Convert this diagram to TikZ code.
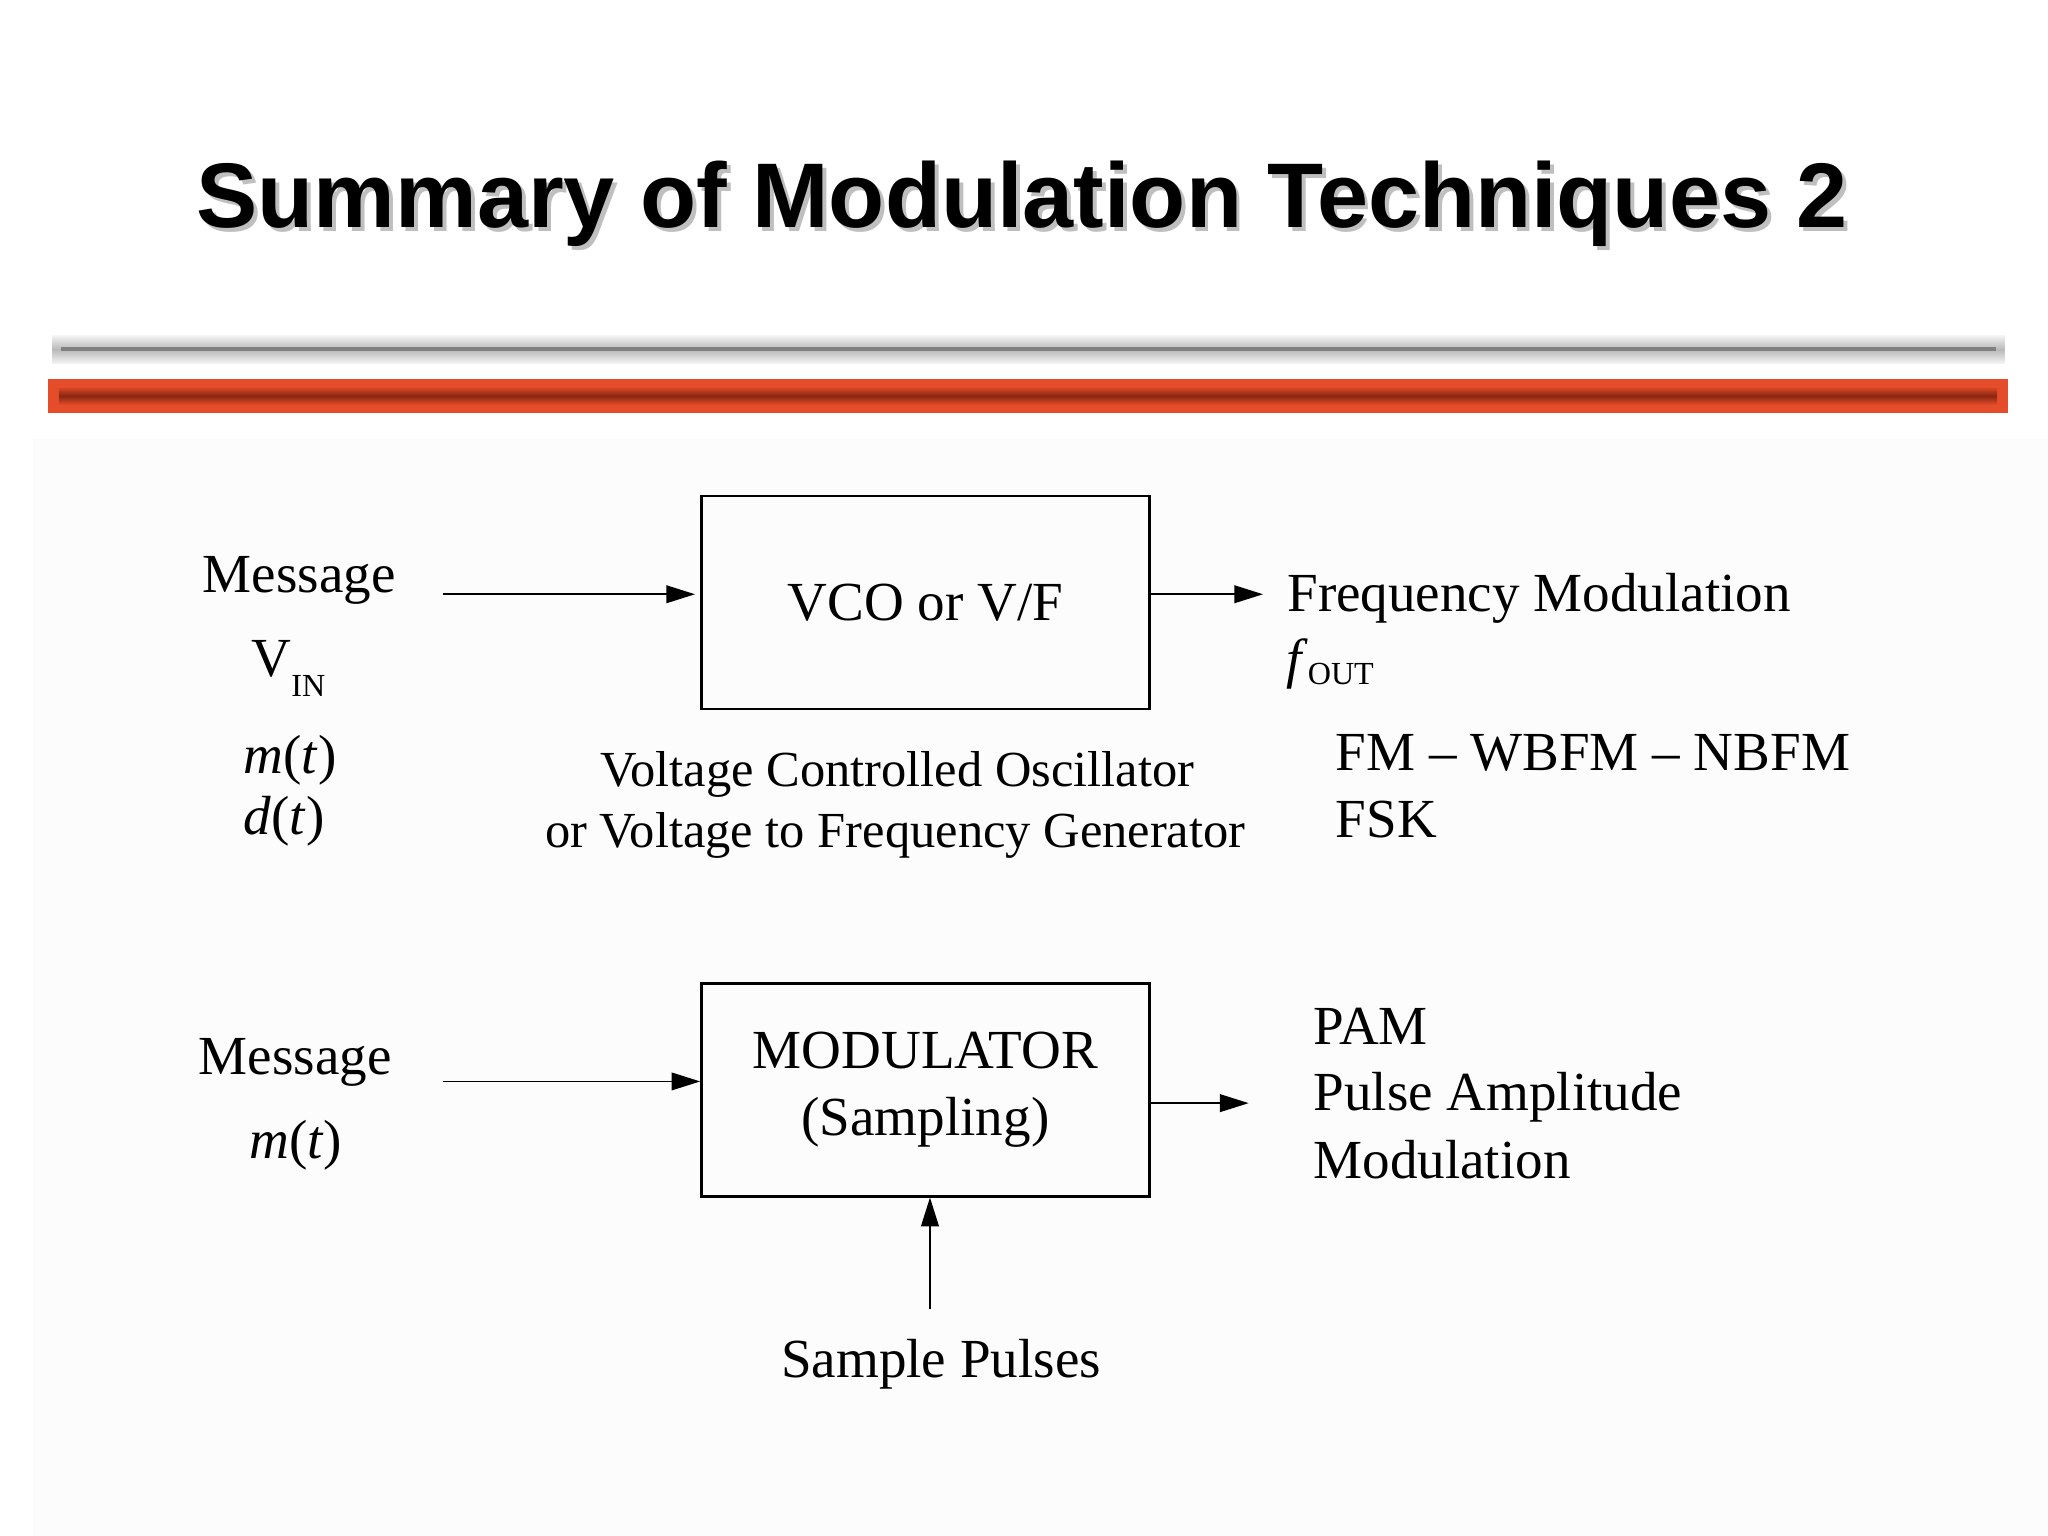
\documentclass[tikz,border=0pt]{standalone}
\usepackage{fontspec}
\setmainfont{Liberation Serif}
\newfontfamily\headfont{Liberation Sans}
\usepackage{xcolor}
\usepackage{tikz}
\usetikzlibrary{positioning,calc,arrows.meta}
\definecolor{barred}{RGB}{228,76,42}
\definecolor{bardark}{RGB}{135,38,16}

\begin{document}
\begin{tikzpicture}[
    blockbox/.style={draw, line width=0.5pt, minimum width=3.43cm, minimum height=1.63cm, inner sep=0pt, font=\fontsize{12}{14}\selectfont},
    sig/.style={line width=0.4pt, -{Triangle[length=2.2mm,width=1.35mm]}},
    lbl/.style={inner sep=0pt, font=\fontsize{12}{14}\selectfont},
    captext/.style={inner sep=0pt, font=\fontsize{11}{13}\selectfont}
  ]
    \useasboundingbox (0,0) rectangle (15.68,11.76);
    \fill[white] (0,0) rectangle (15.68,11.76);
    \fill[black!1] (0.25,0) rectangle (15.68,8.40);

    % Title with shadow
    \node[anchor=base, inner sep=0pt, text=gray!50, font=\headfont\bfseries\fontsize{20}{24}\selectfont] (titleshadow) at (7.855,9.99) {Summary of Modulation Techniques 2};
    \node[anchor=base, inner sep=0pt, font=\headfont\bfseries\fontsize{20}{24}\selectfont] (title) at (7.825,10.02) {Summary of Modulation Techniques 2};

    % Bars
    \shade[top color=gray!10, bottom color=gray!10, middle color=gray!55] (0.40,8.98) rectangle (15.35,9.19);
    \draw[black!50, line width=0.9pt] (0.47,9.085) -- (15.28,9.085);
    \fill[barred] (0.37,8.60) rectangle (15.37,8.86);
    \shade[top color=barred, bottom color=barred, middle color=bardark] (0.45,8.66) rectangle (15.29,8.80);

    % FM block
    \node[blockbox] (vco) at (7.085,7.145) {VCO or V/F};
    \node[lbl, anchor=base] (msgtop) at (2.29,7.22) {Message};
    \node[lbl, anchor=base west] (vin) at (1.92,6.58) {V\raisebox{-4.3pt}{\fontsize{7}{8}\selectfont IN}};
    \node[lbl, anchor=base] (mtop) at (2.22,5.84) {\textit{m}(\textit{t})};
    \node[lbl, anchor=base] (dtop) at (2.175,5.37) {\textit{d}(\textit{t})};
    \node[captext, anchor=base] (capa) at (6.87,5.74) {Voltage Controlled Oscillator};
    \node[captext, anchor=base] (capb) at (6.855,5.27) {or Voltage to Frequency Generator};
    \node[lbl, anchor=base west] (fmname) at (9.85,7.08) {Frequency Modulation};
    \node[lbl, anchor=base west] (fout) at (9.84,6.57) {\textit{f}\raisebox{-1.4pt}{\fontsize{7}{8}\selectfont OUT}};
    \node[lbl, anchor=base west] (fmkinds) at (10.22,5.86) {FM -- WBFM -- NBFM};
    \node[lbl, anchor=base west] (fsk) at (10.22,5.35) {FSK};

    \coordinate (vcoin) at (3.39,7.21);
    \coordinate (vcoout) at (9.67,7.21);
    \draw[sig, shorten >=0.4mm] (vcoin) -- (vcoin -| vco.west);
    \draw[sig] (vcoout -| vco.east) -- (vcoout);

    % PAM block
    \node[blockbox, align=center] (mod) at (7.085,3.415) {MODULATOR\\[0.6pt](Sampling)};
    \node[lbl, anchor=base] (msgbot) at (2.26,3.53) {Message};
    \node[lbl, anchor=base] (mbot) at (2.265,2.89) {\textit{m}(\textit{t})};
    \node[lbl, anchor=base west] (pam) at (10.05,3.76) {PAM};
    \node[lbl, anchor=base west] (pamname) at (10.05,3.26) {Pulse Amplitude};
    \node[lbl, anchor=base west] (pamname2) at (10.05,2.74) {Modulation};
    \node[lbl, anchor=base] (pulses) at (7.205,1.21) {Sample Pulses};

    \coordinate (modin) at (3.39,3.48);
    \coordinate (modout) at (9.56,3.314);
    \coordinate (pulsein) at (7.12,1.74);
    \draw[sig] (modin) -- (modin -| mod.west);
    \draw[sig] (modout -| mod.east) -- (modout);
    \draw[sig] (pulsein) -- (pulsein |- mod.south);
\end{tikzpicture}
\end{document}
